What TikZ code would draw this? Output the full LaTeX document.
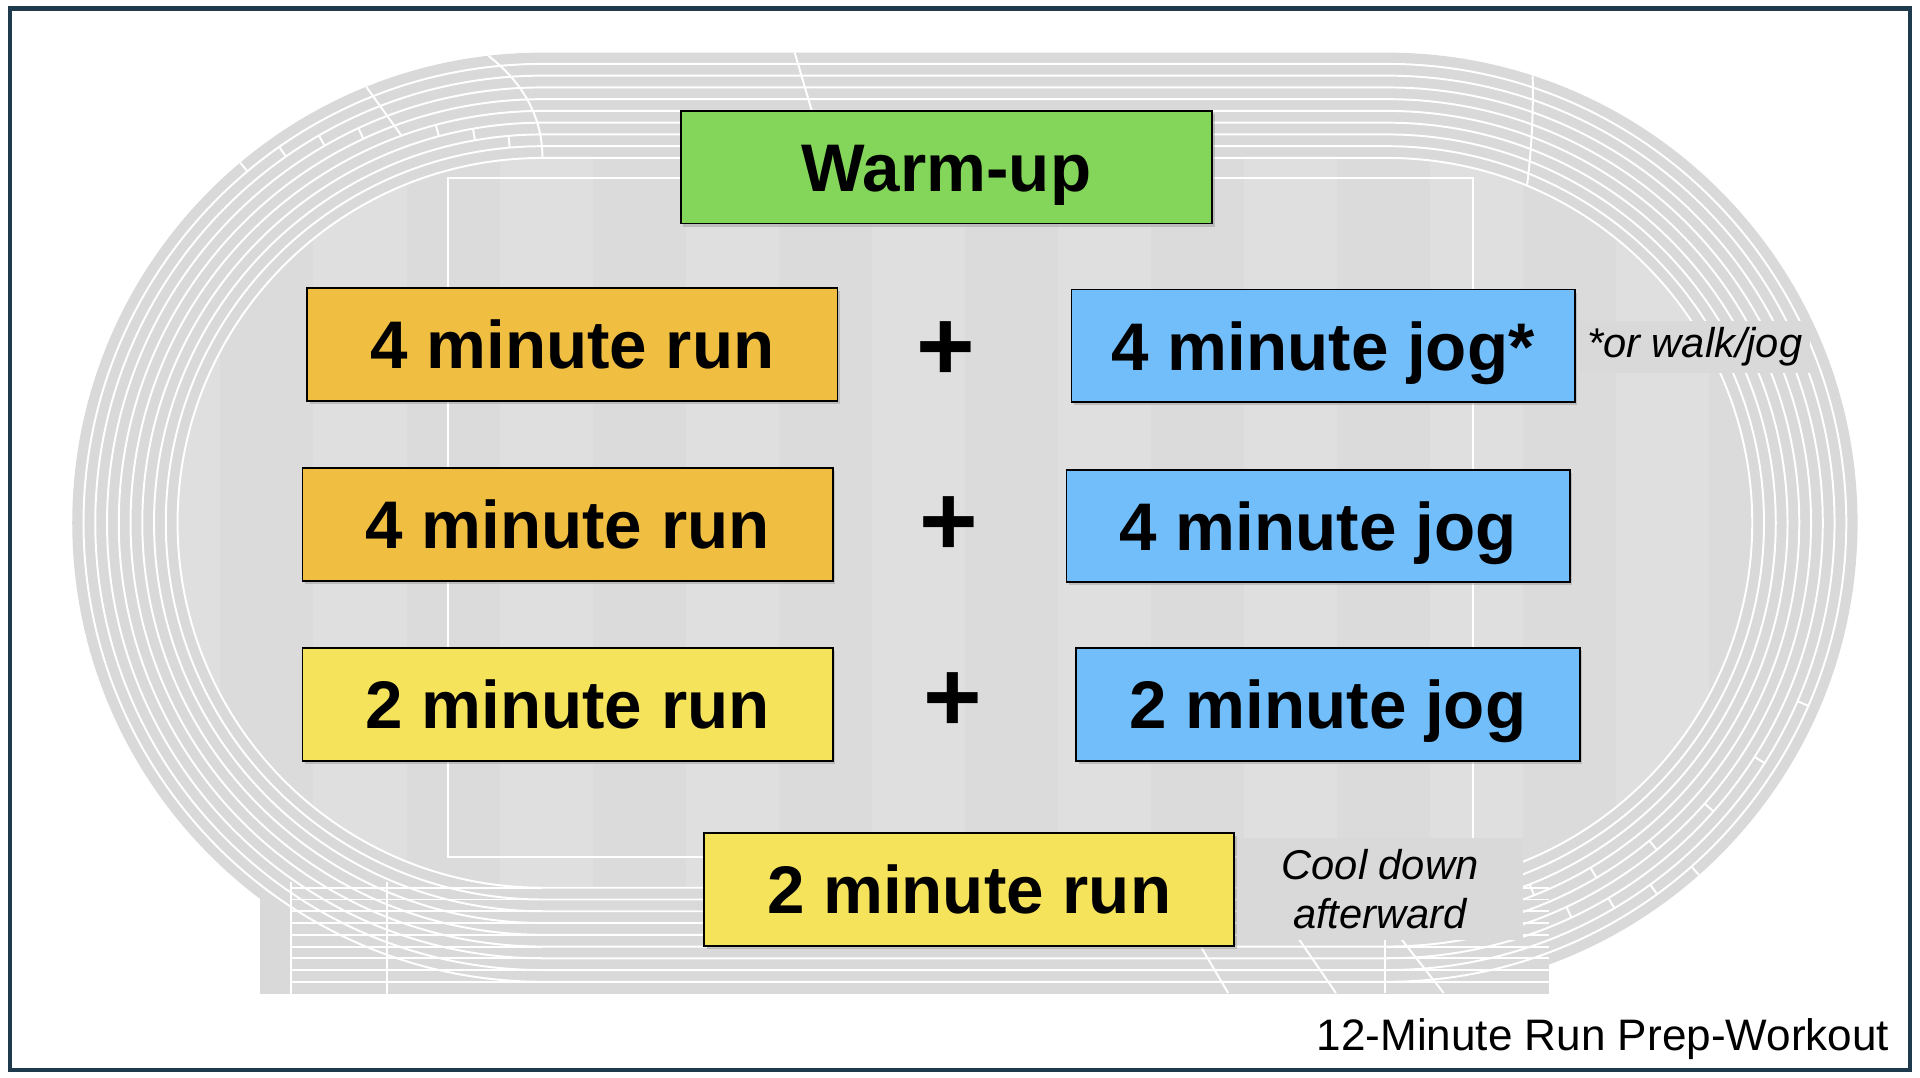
\documentclass[tikz,border=0pt]{standalone}
\usepackage{fontspec}
\setmainfont{Liberation Sans}
\usepackage{xcolor}
\usepackage{tikz}
\usetikzlibrary{
	positioning,    % posizionamento dei nodi
	calc,           % coordinate calcolate
	shadows         % ombre dei blocchi
}

\definecolor{verde}{HTML}{84D65A}
\definecolor{arancio}{HTML}{F0BE41}
\definecolor{giallo}{HTML}{F6E35C}
\definecolor{azzurro}{HTML}{72BEFA}
\definecolor{cornice}{HTML}{1E3A4C}
\definecolor{pista}{HTML}{D9D9D9}
\definecolor{prato}{HTML}{DFDFDF}
\definecolor{pratoscuro}{HTML}{DBDBDB}

% percorso a forma di stadio di raggio #1
\newcommand{\stadio}[1]{(\lx,\cy-#1) -- (\rx,\cy-#1) arc[start angle=-90, end angle=90, radius=#1] -- (\lx,\cy+#1) arc[start angle=90, end angle=270, radius=#1] -- cycle}

\tikzset{
	blocco/.style={draw=black, line width=1.5pt, minimum height=92pt, inner sep=0pt,
		text height=39.4pt, text depth=0pt,
		font=\fontsize{55}{60}\selectfont\bfseries,
		drop shadow={shadow xshift=2pt, shadow yshift=-2.5pt, opacity=0.35}},
	piu/.style={inner sep=0pt, font=\fontsize{82}{82}\selectfont\bfseries},
	nota/.style={fill=pista, inner sep=0pt, align=center, font=\fontsize{34}{40}\selectfont\itshape},
	corsia/.style={white, line width=1.6pt},
}

\begin{document}
\begin{tikzpicture}[x=1pt, y=1pt]
		% Definizioni della pista
		\def\cy{453}    % centro verticale
		\def\lx{443}    % centro della curva sinistra
		\def\rx{1133}   % centro della curva destra
		\def\Rout{384}  % bordo esterno
		\def\Rin{298}   % bordo interno
		\def\dl{9.6}    % larghezza corsia
		
		\useasboundingbox (0,0) rectangle (1568,880);
		
		% --- Pista ---
		\fill[pista] \stadio{\Rout};
		\fill[pista] (212,68) rectangle (1265,160);
		% Prato a strisce
		\begin{scope}
			\clip \stadio{\Rin};
			\fill[prato] (100,0) rectangle (1480,880);
			\foreach \s in {180,332,...,1396}
				\fill[pratoscuro] (\s,0) rectangle +(76,880);
		\end{scope}
		\draw[corsia] (366,180) rectangle (1203,735);
		
		% Linee delle corsie
		\foreach \k in {0,...,8}{
			\pgfmathsetmacro{\r}{\Rin+\dl*\k}
			\draw[corsia] \stadio{\r};
			\draw[corsia] (238,\cy-\r) -- (\lx,\cy-\r);
			\draw[corsia] (\rx,\cy-\r) -- (1265,\cy-\r);
		}
		\draw[corsia] (238,68) -- (238,160);
		\draw[corsia] (316,68) -- (316,160);
		
		% Linee di partenza sfalsate
		\draw[corsia, domain=0:1, samples=20] plot ({\lx+(\Rin+86*\x)*cos(90+6.6*\x*\x)}, {\cy+(\Rin+86*\x)*sin(90+6.6*\x*\x)});
		\draw[corsia, domain=0:1, samples=20] plot ({\rx+(\Rin+86*\x)*cos(67.5+4.5*\x)}, {\cy+(\Rin+86*\x)*sin(67.5+4.5*\x)});
		\foreach \k in {1,2,3,5,6,7,8}{
			\pgfmathsetmacro{\r}{\Rin+\dl*\k}
			\pgfmathsetmacro{\rr}{min(\r+\dl,\Rout)}
			\draw[corsia] ($(\lx,\cy)+(90+5*\k:\r)$) -- ($(\lx,\cy)+(90+5*\k:\rr)$);
		}
		\draw[corsia] ($(\lx,\cy)+(110:\Rin+4*\dl)$) -- ($(\lx,\cy)+(112:\Rout)$);
		\draw[corsia] (663,\cy+\Rin+4*\dl) -- (649,\cy+\Rout);
		\foreach \k in {2,...,7}{
			\pgfmathsetmacro{\r}{\Rin+\dl*\k}
			\pgfmathsetmacro{\a}{-86.5+9*\k}
			\draw[corsia] ($(\rx,\cy)+(\a:\r)$) -- ($(\rx,\cy)+(\a:\r+\dl)$);
		}
		\foreach \k in {5,...,8}{
			\pgfmathsetmacro{\r}{\Rin+\dl*\k}
			\pgfmathsetmacro{\rr}{min(\r+\dl,\Rout)}
			\pgfmathsetmacro{\a}{-92.5+5.5*\k}
			\draw[corsia] ($(\rx,\cy)+(\a:\r)$) -- ($(\rx,\cy)+(\a:\rr)$);
		}
		\draw[corsia] (973,120) -- (1003,69);
		\draw[corsia] (1056,120) -- (1091,69);
		\draw[corsia] (1131,120) -- (1131,69);
		\draw[corsia] (1139,120) -- (1179,69);
		
		% --- Blocchi ---
		\node[blocco, fill=verde, minimum width=434pt] (warmup) at (773,743.5) {Warm-up};
		\node[blocco, fill=arancio, minimum width=433pt] (run1) at (467.5,598.5) {4 minute run};
		\node[blocco, fill=azzurro, minimum width=411pt] (jog1) at (1080.5,597.5) {4 minute jog*};
		\node[blocco, fill=arancio, minimum width=433pt] (run2) at (463.5,451.5) {4 minute run};
		\node[blocco, fill=azzurro, minimum width=411pt] (jog2) at (1076.5,450.5) {4 minute jog};
		\node[blocco, fill=giallo, minimum width=433pt] (run3) at (463.5,304.5) {2 minute run};
		\node[blocco, fill=azzurro, minimum width=411pt] (jog3) at (1084.5,304.5) {2 minute jog};
		\node[blocco, fill=giallo, minimum width=433pt] (run4) at (791.5,153.5) {2 minute run};
		
		% Segni piu
		\node[piu] (plus1) at (772,593) {+};
		\node[piu] (plus2) at (775,450) {+};
		\node[piu] (plus3) at (778,307) {+};
		
		% --- Note ---
		\node[nota, minimum width=188pt, minimum height=43pt] (walkjog) at (1384,596.5) {*or walk/jog};
		\node[nota, minimum width=234pt, minimum height=84pt] (cooldown) at (1127,154) {Cool down\\afterward};
		
		% Titolo e cornice
		\node[anchor=base east, inner sep=0pt, font=\fontsize{36}{40}\selectfont] (title) at (1543,22) {12-Minute Run Prep-Workout};
		\draw[cornice, line width=3.5pt] (8,6) rectangle (1560,873);
	\end{tikzpicture}
\end{document}
